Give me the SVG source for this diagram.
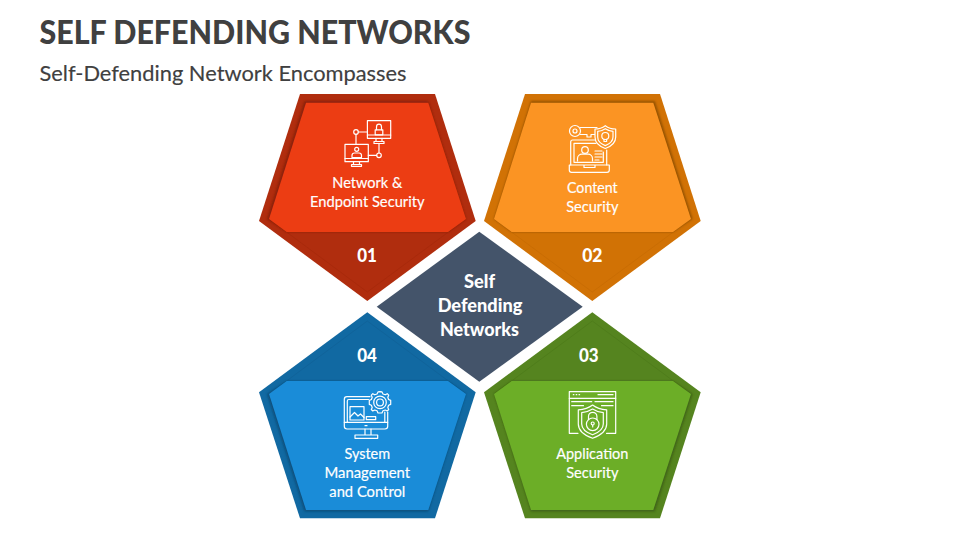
<svg xmlns="http://www.w3.org/2000/svg" width="960" height="540" viewBox="0 0 960 540">
<defs>
<filter id="soft" x="-10%" y="-10%" width="120%" height="120%"><feGaussianBlur stdDeviation="0.9"/></filter>
</defs>
<style>
text{font-family:"Lato","Open Sans","Liberation Sans",sans-serif;fill:#fff;text-anchor:middle}
.b{font-weight:900}
.lb{font-size:15.2px;stroke:#fff;stroke-width:.18}
.num{font-size:19px;font-weight:900}
.ctr{font-size:18.8px;font-weight:900}
.ic{fill:none;stroke:#fff;stroke-width:1.2;stroke-linejoin:round;stroke-linecap:round}
.sh{opacity:.75;filter:url(#soft)}
</style>
<rect width="960" height="540" fill="#fff"/>
<g id="title">
<text x="255" y="44" class="b" style="font-size:32px;fill:#404040" textLength="431" lengthAdjust="spacingAndGlyphs">SELF DEFENDING NETWORKS</text>
<text x="223" y="80.700" style="font-size:21px;fill:#404040;stroke:#404040;stroke-width:.15" textLength="367" lengthAdjust="spacingAndGlyphs">Self-Defending Network Encompasses</text>
</g>
<g id="connectors"></g>
<g id="node-01">
<polygon points="300,94 435,94 475.700,221 367.300,301 259,221" fill="#b02d0e"/>
<polygon points="269,219 367.300,292 466,219" fill="none" stroke="#a82a0c" stroke-width="1"/>
<polygon class="sh" points="304.500,101 428.300,101 466,219 448,232 286.700,232 267,219" fill="#7c1f07"/>
<polygon points="306,102.700 428.300,102.700 466,219 448,232 286.700,232 269,219" fill="#ec3d13"/>
<g class="ic">
<rect x="367.400" y="120.700" width="23.300" height="17.600"/><path d="M367.400 135H390.700M376 138.300V141.500M382 138.300V141.500M374 141.500H384V143.500H374Z"/>
<rect x="375.200" y="129.800" width="7.600" height="5"/><path d="M376.500 129.800V127a2.500 2.800 0 0 1 5 0V129.800"/>
<rect x="345" y="144.300" width="23.300" height="17.400"/><path d="M345 158.500H368.300M353.500 161.700V164.500M359.500 161.700V164.500M351.500 164.500H361.500V166.300H351.500Z"/>
<circle cx="356.700" cy="149.300" r="2"/><path d="M352 157.500V155.500a2.500 2.500 0 0 1 2.500-2.500H359a2.500 2.500 0 0 1 2.500 2.500V157.500Z"/>
<circle cx="356" cy="132" r="2.300"/><path d="M358.300 132H367.400M356 134.300V144.300"/>
<circle cx="379" cy="155.300" r="2.300"/><path d="M376.700 155.300H368.300M379 153V143.500"/>
</g>
<text x="367.300" y="187.700" class="lb" textLength="70" lengthAdjust="spacingAndGlyphs">Network &amp;</text>
<text x="367.300" y="206.700" class="lb" textLength="114.500" lengthAdjust="spacingAndGlyphs">Endpoint Security</text>
<text x="367" y="261.700" class="num" textLength="19.700" lengthAdjust="spacingAndGlyphs">01</text>
</g>
<g id="node-02">
<polygon points="525,94 660,94 700.700,221 592.300,301 484,221" fill="#d17205"/>
<polygon points="494,219 592.300,292 691,219" fill="none" stroke="#c96d04" stroke-width="1"/>
<polygon class="sh" points="531,101 654.800,101 692.500,219 673,232 511.700,232 494,219" fill="#7f4702"/>
<polygon points="531,102.700 653.300,102.700 691,219 673,232 511.700,232 494,219" fill="#fb9423"/>
<g class="ic">
<path d="M570.700 165V142a2 2 0 0 1 2-2H597M606.700 150V165"/>
<path d="M574 162.300V143.300H596M603.300 152V162.300H574"/>
<path d="M569.300 165H609.300V170a2.300 2.300 0 0 1-2.300 2.300H571.600a2.300 2.300 0 0 1-2.300-2.300ZM584 165v2.500h11V165"/>
<circle cx="575" cy="131" r="5.500"/><circle cx="575" cy="131" r="2"/>
<path d="M580.300 127.500H597M580.300 134.500H587V137H591V134.500H596"/>
<path d="M605.300 125.700C609 128.500 612 129 615.700 129V137C615.700 143 611 146.500 605.300 148.500C599.500 146.500 595 143 595 137V129C598.500 129 601.500 128.500 605.300 125.700Z" fill="#fb9423"/>
<path d="M605.300 128.700C608 130.500 610.500 131.300 613 131.400V137C613 141.500 609.500 144 605.300 145.600C601 144 597.700 141.500 597.700 137V131.400C600 131.300 602.500 130.500 605.300 128.700Z"/>
<circle cx="605.300" cy="136" r="3.500"/><path d="M604 139.300V141.500H606.600V139.300"/>
<circle cx="585" cy="150" r="3.300"/><path d="M577.500 161V158.500a4.500 4.500 0 0 1 4.500-4.300H588a4.500 4.500 0 0 1 4.500 4.300V161"/>
<path d="M595 151H602M595 154H602M595 157H602M595 160H599"/>
</g>
<text x="592.300" y="192.700" class="lb" textLength="50.500" lengthAdjust="spacingAndGlyphs">Content</text>
<text x="592.300" y="211.700" class="lb" textLength="52.300" lengthAdjust="spacingAndGlyphs">Security</text>
<text x="592.300" y="261.700" class="num" textLength="20.300" lengthAdjust="spacingAndGlyphs">02</text>
</g>
<g id="node-03">
<polygon points="592.300,312.300 700.700,392.300 660,518.300 525,518.300 484,392.300" fill="#55841f"/>
<polygon points="494,394 592.300,321 691,394" fill="none" stroke="#4f7d1b" stroke-width="1"/>
<polygon class="sh" points="511.700,381 673,381 692.500,394 654.800,511.500 531,511.500 494,394" fill="#375812"/>
<polygon points="511.700,381 673,381 691,394 653.300,510 531,510 494,394" fill="#6cae27"/>
<g class="ic">
<path d="M578 433.300H569.300V391.700H615.700V433.300H606.500"/>
<path d="M569.300 398.300H615.700M598 394.700H613M571.700 401.700H591.700M595 401.700H613M571.700 405.700H583.500M601.500 405.700H613"/>
<path d="M573.300 394.700H573.900M576.200 394.700H576.800M579 394.700H579.600"/>
<path d="M592.600 405C597 408.500 601.500 409.500 606.700 409.800V424C606.700 431 600 435.500 592.600 438.300C585 435.500 578.300 431 578.300 424V409.800C583.500 409.500 588 408.500 592.600 405Z"/>
<path d="M592.600 409C596 411.300 599.500 412.300 603.300 412.600V424C603.300 429.300 598.300 432.700 592.600 434.800C586.700 432.700 581.700 429.300 581.700 424V412.600C585.500 412.300 589 411.300 592.600 409Z"/>
<circle cx="592.700" cy="424.300" r="6.300"/>
<path d="M588.500 419.600V416.500a4.200 4.200 0 0 1 8.400 0V419.600"/>
<circle cx="592.700" cy="423.500" r="1.500"/><path d="M592.700 425V427"/>
</g>
<text x="592.300" y="459" class="lb" textLength="72.300" lengthAdjust="spacingAndGlyphs">Application</text>
<text x="592.300" y="477.700" class="lb" textLength="52.300" lengthAdjust="spacingAndGlyphs">Security</text>
<text x="588.800" y="361.700" class="num" textLength="19.700" lengthAdjust="spacingAndGlyphs">03</text>
</g>
<g id="node-04">
<polygon points="367.300,312.300 475.700,392.300 435,518.300 300,518.300 259,392.300" fill="#1169a2"/>
<polygon points="269,394 367.300,321 466,394" fill="none" stroke="#10639a" stroke-width="1"/>
<polygon class="sh" points="286.700,381 448,381 466,394 428.300,511.500 304.500,511.500 267,394" fill="#0a466f"/>
<polygon points="286.700,381 448,381 466,394 428.300,510 306,510 269,394" fill="#1a8cd8"/>
<g class="ic">
<path d="M370 396.700H347a2.700 2.700 0 0 0-2.700 2.700V426.300a2.700 2.700 0 0 0 2.700 2.700H385a2.700 2.700 0 0 0 2.700-2.700V412"/>
<path d="M344.300 422.300H387.700M347.300 422.300V401a1.500 1.500 0 0 1 1.500-1.500H368.500M384.800 412V422.300"/>
<path d="M365 429V435M371 429V435M355 435H377.700V438.300H355ZM365 425.700H367"/>
<rect x="350" y="406.700" width="14" height="13.300"/>
<path d="M350 417L354.500 412.500L358 416L360.500 414L364 417.500"/>
<rect x="366.300" y="416.700" width="9.400" height="3"/>
<path d="M380 391.700L382 391.900L383 394L385.300 394.800L387.200 393.700L388.700 395.200L387.800 397.200L388.600 399.500L390.700 400.400V402.400V404.400L388.600 405.300L387.800 407.500L388.700 409.500L387.200 411L385.300 410L383 410.800L382 413H380H378L377 410.800L374.700 410L372.800 411L371.300 409.500L372.200 407.500L371.400 405.300L369.300 404.400V402.400V400.400L371.400 399.500L372.200 397.200L371.300 395.200L372.800 393.700L374.700 394.800L377 394L378 391.900Z" fill="#1a8cd8"/>
<circle cx="380" cy="402.400" r="6.300"/><circle cx="380" cy="402.400" r="3.400"/>
</g>
<text x="367.300" y="459" class="lb" textLength="45.700" lengthAdjust="spacingAndGlyphs">System</text>
<text x="367.300" y="477.700" class="lb" textLength="85.700" lengthAdjust="spacingAndGlyphs">Management</text>
<text x="367.300" y="496.700" class="lb" textLength="76" lengthAdjust="spacingAndGlyphs">and Control</text>
<text x="367" y="361.700" class="num" textLength="19.700" lengthAdjust="spacingAndGlyphs">04</text>
</g>
<g id="node-center">
<polygon points="376.700,306.700 479.300,231.700 582.700,306.700 479.300,381.700" fill="#44546a"/>
<text x="479.500" y="288.300" class="ctr" textLength="31" lengthAdjust="spacingAndGlyphs">Self</text>
<text x="480" y="312.300" class="ctr" textLength="84.700" lengthAdjust="spacingAndGlyphs">Defending</text>
<text x="479.500" y="336" class="ctr" textLength="79" lengthAdjust="spacingAndGlyphs">Networks</text>
</g>
</svg>
